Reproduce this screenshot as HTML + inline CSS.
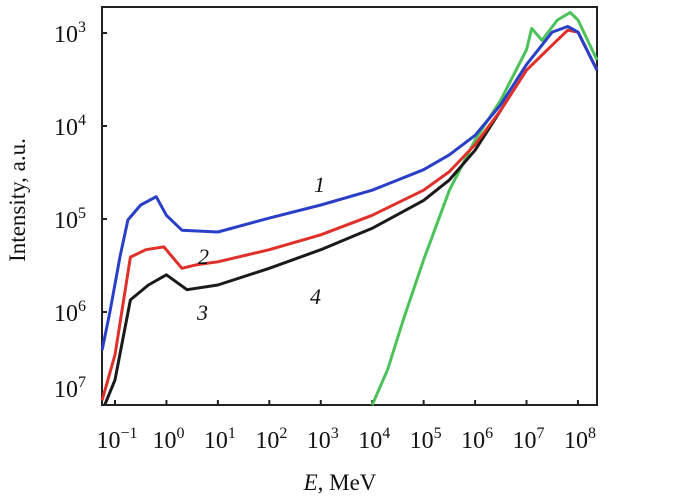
<!DOCTYPE html>
<html><head><meta charset="utf-8"><style>
body{margin:0;background:#fff;}
svg text{font-family:"Liberation Serif",serif;fill:#111;}
</style></head><body>
<svg width="685" height="498" viewBox="0 0 685 498" xmlns="http://www.w3.org/2000/svg">
<rect x="102" y="7" width="495" height="398" fill="none" stroke="#222" stroke-width="2"/>
<g id="ticks"></g>
<g id="series"></g>
<text transform="translate(25,200) rotate(-90)" text-anchor="middle" font-size="23">Intensity, a.u.</text>
<text x="340" y="490" text-anchor="middle" font-size="23"><tspan font-style="italic">E</tspan>, MeV</text>
<text x="314" y="192" font-size="22" font-style="italic">1</text>
<text x="198" y="264" font-size="22" font-style="italic">2</text>
<text x="197" y="320" font-size="22" font-style="italic">3</text>
<text x="310" y="304" font-size="22" font-style="italic">4</text>
</svg>
<script>
const xTicks=[-1,0,1,2,3,4,5,6,7,8];
const xTickLabels=["−1","0","1","2","3","4","5","6","7","8"];
const yTicks=[3,4,5,6,7];
const yTickLabels=["3","4","5","6","7"];
// series: x = log10(E), p = exponent shown on y axis
const s1x=[-1.25,-1.1,-0.9,-0.75,-0.5,-0.2,0,0.3,1,2,3,4,5,5.5,6,6.5,7,7.3,7.5,7.8,8,8.37];
const s1p=[6.41,6.0,5.4,5.01,4.85,4.76,4.96,5.12,5.14,4.99,4.85,4.69,4.47,4.31,4.10,3.77,3.34,3.13,2.99,2.93,2.99,3.40];
const s2x=[-1.25,-1,-0.7,-0.4,-0.05,0.3,0.6,1,2,3,4,5,5.5,6,6.5,7,7.5,7.8,8,8.37];
const s2p=[6.95,6.46,5.41,5.33,5.30,5.53,5.49,5.46,5.33,5.17,4.96,4.69,4.49,4.20,3.83,3.40,3.13,2.97,2.99,3.40];
const s3x=[-1.2,-1,-0.7,-0.35,0,0.4,1,2,3,4,5,5.5,6,6.5];
const s3p=[7.0,6.73,5.87,5.71,5.60,5.76,5.71,5.53,5.33,5.10,4.80,4.58,4.26,3.83];
const s4x=[4.0,4.3,4.6,5,5.5,6,6.5,7,7.1,7.3,7.6,7.85,8,8.37];
const s4p=[7.0,6.62,6.09,5.44,4.69,4.15,3.72,3.18,2.95,3.08,2.86,2.78,2.86,3.29];
const X=v=>115+(v+1)*51.44;
const Y=p=>33+(p-3)*93;
const NS="http://www.w3.org/2000/svg";
const tg=document.getElementById('ticks');
xTicks.forEach((t,i)=>{
 const l=document.createElementNS(NS,'line');
 
 
 l.setAttribute('x1',X(t));l.setAttribute('x2',X(t));l.setAttribute('y1',405);l.setAttribute('y2',400);l.setAttribute('stroke','#222');l.setAttribute('stroke-width','2');tg.appendChild(l);
 const tx=document.createElementNS(NS,'text');
 
 
 tx.setAttribute('x',X(t)+2);tx.setAttribute('y',448);tx.setAttribute('text-anchor','middle');tx.setAttribute('font-size','24');
 tx.innerHTML='10<tspan font-size="16" dy="-10">'+xTickLabels[i]+'</tspan>';tg.appendChild(tx);
});
yTicks.forEach((t,i)=>{
 const l=document.createElementNS(NS,'line');
 
 
 l.setAttribute('x1',102);l.setAttribute('x2',107);l.setAttribute('y1',Y(t));l.setAttribute('y2',Y(t));l.setAttribute('stroke','#222');l.setAttribute('stroke-width','2');tg.appendChild(l);
 const tx=document.createElementNS(NS,'text');
 
 
 tx.setAttribute('x',54);tx.setAttribute('y',Math.min(Y(t),388)+9);tx.setAttribute('font-size','24');
 tx.innerHTML='10<tspan font-size="16" dy="-10">'+yTickLabels[i]+'</tspan>';tg.appendChild(tx);
});
const sg=document.getElementById('series');
function draw(xs,ps,col,name){
 const pl=document.createElementNS(NS,'polyline');
 
 
 pl.setAttribute('points',xs.map((x,i)=>X(x).toFixed(1)+','+Y(ps[i]).toFixed(1)).join(' '));
 pl.setAttribute('fill','none');pl.setAttribute('stroke',col);pl.setAttribute('stroke-width','3');pl.setAttribute('stroke-linejoin','round');
 sg.appendChild(pl);
}
draw(s4x,s4p,'#4cc35a','series-4');
draw(s3x,s3p,'#1a1a1a','series-3');
draw(s2x,s2p,'#e0302a','series-2');
draw(s1x,s1p,'#2a3fc8','series-1');
</script>
</body></html>
